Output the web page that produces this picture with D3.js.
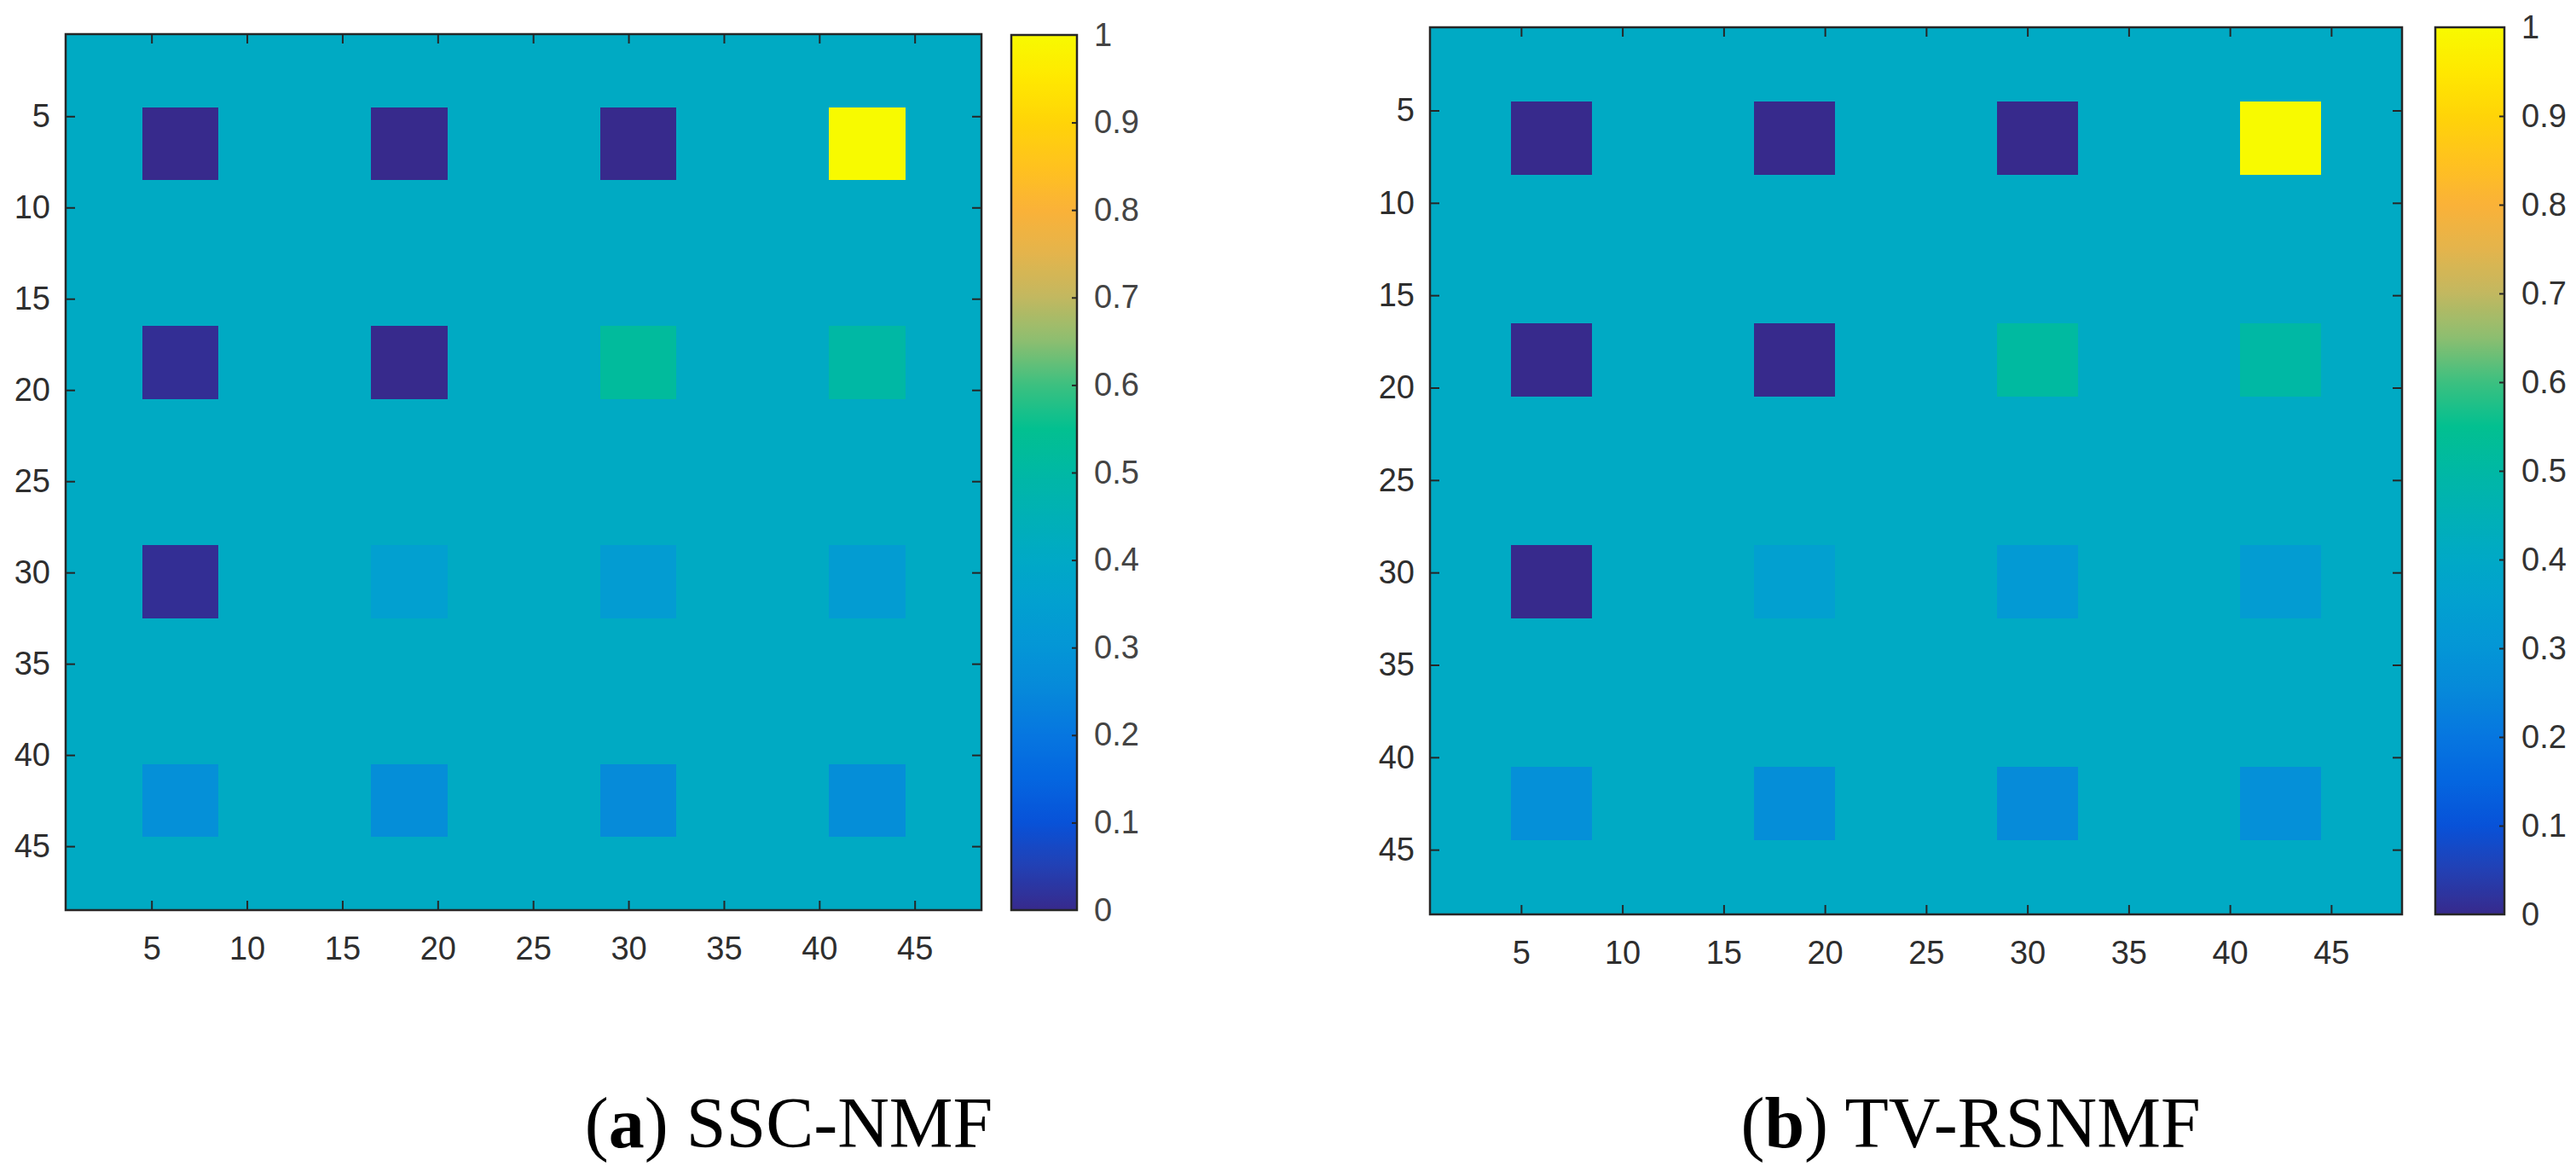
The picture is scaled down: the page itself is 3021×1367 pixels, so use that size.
<!DOCTYPE html>
<html>
  <head>
    <meta charset="utf-8">
    <script src="https://cdnjs.cloudflare.com/ajax/libs/d3/7.8.5/d3.min.js"></script>
    <style type="text/css">
      body {
        margin: 0;
        padding: 0;
        background: #fff;
      }

      .tick text {
        font-family: 'Liberation Sans', Arial, sans-serif;
        font-size: 38px;
        fill: #2e2e2e;
      }

      .caption {
        font-family: 'Liberation Serif', 'Times New Roman', serif;
        font-size: 84px;
        fill: #000;
      }
    </style>
  </head>
  <body>
    <svg id="chart" width="3021" height="1367"></svg>

    <script>
      /* Data: 48 x 48 matrix, flat background with 4 x 4 blocks of 4 x 4 cells */
      const gridSize = 48
      const blockStarts = [5, 17, 29, 41]
      const blockWidth = 4

      const sscBackground = 0.41
      const sscBlocks = [
        [0.0, 0.0, 0.0, 1.0],
        [0.01, 0.0, 0.52, 0.5],
        [0.01, 0.35, 0.33, 0.33],
        [0.28, 0.27, 0.26, 0.27]
      ]

      const tvBackground = 0.405
      const tvBlocks = [
        [0.0, 0.0, 0.0, 1.0],
        [0.0, 0.0, 0.51, 0.5],
        [0.0, 0.35, 0.32, 0.33],
        [0.28, 0.27, 0.26, 0.28]
      ]

      const axisTicks = [5, 10, 15, 20, 25, 30, 35, 40, 45]
      const colorTicks = [0, 0.1, 0.2, 0.3, 0.4, 0.5, 0.6, 0.7, 0.8, 0.9, 1]

      const captionLetters = ['a', 'b']
      const captionNames = ['SSC-NMF', 'TV-RSNMF']

      /* Colormap (parula-like, as it looks in the picture) */
      const cmapStops = [0, 0.05, 0.1, 0.15, 0.2, 0.25, 0.3, 0.35, 0.4, 0.45, 0.5, 0.55, 0.6, 0.65, 0.7, 0.75, 0.8, 0.85, 0.9, 0.95, 1]
      const cmapColors = ['#372a8c', '#2240b4', '#0852d8', '#0466e0', '#0676e0', '#0688da', '#0496d6', '#02a0d0', '#00a9c6', '#00b0b6', '#00b8a4', '#02c090', '#3cc080', '#8cbe70', '#c2b860', '#e4b44c', '#fab238', '#ffc21e', '#ffd408', '#ffe800', '#f8fa00']
      const color = d3.scaleLinear().domain(cmapStops).range(cmapColors).clamp(true)

      const buildMatrix = (background, blocks) => {
        const cells = []
        for (let r = 1; r <= gridSize; r++) {
          for (let c = 1; c <= gridSize; c++) {
            const bi = blockStarts.findIndex(s => r >= s && r < s + blockWidth)
            const bj = blockStarts.findIndex(s => c >= s && c < s + blockWidth)
            const value = (bi >= 0 && bj >= 0) ? blocks[bi][bj] : background
            cells.push({ row: r, col: c, value })
          }
        }
        return cells
      }

      const panels = [
        {
          cells: buildMatrix(sscBackground, sscBlocks),
          box: { x0: 77, x1: 1151, y0: 40, y1: 1067 },
          bar: { x0: 1186, x1: 1263, y0: 41, y1: 1067 },
          barText: '#444',
          caption: { x: 925, y: 1345 }
        },
        {
          cells: buildMatrix(tvBackground, tvBlocks),
          box: { x0: 1677, x1: 2817, y0: 32, y1: 1072 },
          bar: { x0: 2856, x1: 2937, y0: 32, y1: 1072 },
          barText: '#333',
          caption: { x: 2311, y: 1345 }
        }
      ]

      const svg = d3.select('#chart')
      const defs = svg.append('defs')
      const axisColor = '#262626'

      const grad = defs.append('linearGradient')
        .attr('id', 'cmap')
        .attr('x1', 0).attr('y1', 1)
        .attr('x2', 0).attr('y2', 0)
      grad.selectAll('stop')
        .data(d3.range(0, 1.0001, 0.01))
        .join('stop')
        .attr('offset', d => d)
        .attr('stop-color', d => color(d))

      const styleAxis = g => {
        g.select('.domain').remove()
        g.selectAll('.tick line').attr('stroke', axisColor).attr('stroke-width', 2)
      }

      panels.forEach((p, i) => {
        const g = svg.append('g')
        const { box, bar } = p

        const x = d3.scaleLinear().domain([0.5, gridSize + 0.5]).range([box.x0, box.x1])
        const y = d3.scaleLinear().domain([0.5, gridSize + 0.5]).range([box.y0, box.y1])

        g.append('g')
          .attr('shape-rendering', 'crispEdges')
          .selectAll('rect')
          .data(p.cells)
          .join('rect')
          .attr('x', d => x(d.col - 0.5))
          .attr('y', d => y(d.row - 0.5))
          .attr('width', d => x(d.col + 0.5) - x(d.col - 0.5) + 0.6)
          .attr('height', d => y(d.row + 0.5) - y(d.row - 0.5) + 0.6)
          .attr('fill', d => color(d.value))

        // ticks inside the box on all four sides
        g.append('g')
          .attr('transform', `translate(${box.x0},0)`)
          .call(d3.axisLeft(y).tickValues(axisTicks).tickSizeInner(-11).tickSizeOuter(0).tickPadding(18))
          .call(styleAxis)
        g.append('g')
          .attr('transform', `translate(0,${box.y1})`)
          .call(d3.axisBottom(x).tickValues(axisTicks).tickSizeInner(-11).tickSizeOuter(0).tickPadding(31))
          .call(styleAxis)
        g.append('g')
          .attr('transform', `translate(${box.x1},0)`)
          .call(d3.axisRight(y).tickValues(axisTicks).tickSizeInner(-11).tickSizeOuter(0).tickFormat(''))
          .call(styleAxis)
        g.append('g')
          .attr('transform', `translate(0,${box.y0})`)
          .call(d3.axisTop(x).tickValues(axisTicks).tickSizeInner(-11).tickSizeOuter(0).tickFormat(''))
          .call(styleAxis)

        g.append('rect')
          .attr('x', box.x0).attr('y', box.y0)
          .attr('width', box.x1 - box.x0).attr('height', box.y1 - box.y0)
          .attr('fill', 'none')
          .attr('stroke', axisColor)
          .attr('stroke-width', 2.5)

        /* Colorbar */
        const c = d3.scaleLinear().domain([0, 1]).range([bar.y1, bar.y0])
        g.append('rect')
          .attr('x', bar.x0).attr('y', bar.y0)
          .attr('width', bar.x1 - bar.x0).attr('height', bar.y1 - bar.y0)
          .attr('fill', 'url(#cmap)')
          .attr('stroke', axisColor)
          .attr('stroke-width', 2.5)

        g.append('g')
          .attr('transform', `translate(${bar.x1},0)`)
          .call(d3.axisRight(c).tickValues(colorTicks).tickSizeInner(-6).tickSizeOuter(0).tickPadding(20).tickFormat(d3.format('~g')))
          .call(styleAxis)
          .call(a => a.selectAll('.tick text').style('fill', p.barText).attr('font-size', 37))
          .call(a => a.selectAll('.tick').filter(d => d === 0 || d === 1).select('line').remove())

        /* Caption */
        const cap = svg.append('text')
          .attr('class', 'caption')
          .attr('x', p.caption.x)
          .attr('y', p.caption.y)
          .attr('text-anchor', 'middle')
        cap.append('tspan').text('(')
        cap.append('tspan').attr('font-weight', 'bold').text(captionLetters[i])
        cap.append('tspan').text(') ' + captionNames[i])
      })
    </script>
  </body>
</html>
